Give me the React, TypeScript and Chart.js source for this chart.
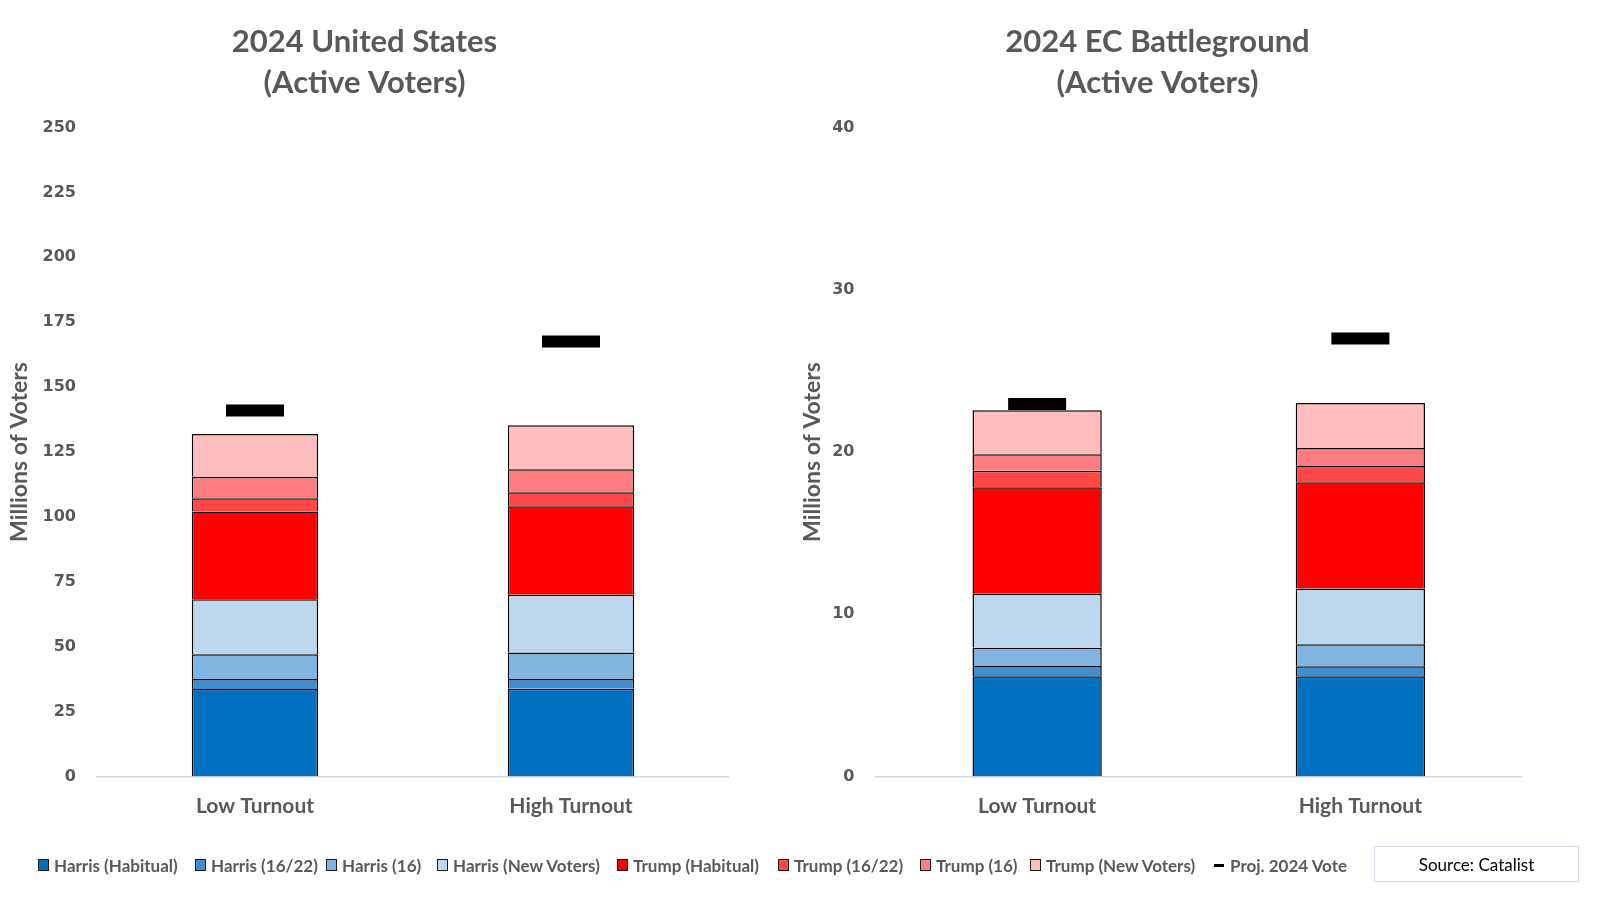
import React, { useEffect, useRef } from 'react';
import { Chart, registerables } from 'chart.js';

Chart.register(...registerables);

// ---- data -------------------------------------------------------------
const categories = ['Low Turnout', 'High Turnout'];

const seriesNames = [
  'Harris (Habitual)',
  'Harris (16/22)',
  'Harris (16)',
  'Harris (New Voters)',
  'Trump (Habitual)',
  'Trump (16/22)',
  'Trump (16)',
  'Trump (New Voters)',
];
const seriesColors = [
  '#0070C0',
  '#3F8ECF',
  '#7FB5DF',
  '#BDD7EE',
  '#FF0000',
  '#FF4747',
  '#FF7C80',
  '#FFBDBD',
];
const projName = 'Proj. 2024 Vote';

// United States, millions of active voters
const usHarrisHabitual = [33.7, 33.8];
const usHarris1622 = [3.9, 3.8];
const usHarris16 = [9.5, 10.2];
const usHarrisNew = [21.2, 22.2];
const usTrumpHabitual = [33.8, 34.1];
const usTrump1622 = [5.1, 5.4];
const usTrump16 = [8.3, 8.8];
const usTrumpNew = [16.4, 17.0];
const usProj = [141.0, 167.6];
const usTicks = [0, 25, 50, 75, 100, 125, 150, 175, 200, 225, 250];

// EC battleground states, millions of active voters
const ecHarrisHabitual = [6.18, 6.18];
const ecHarris1622 = [0.63, 0.61];
const ecHarris16 = [1.13, 1.36];
const ecHarrisNew = [3.33, 3.43];
const ecTrumpHabitual = [6.55, 6.55];
const ecTrump1622 = [1.03, 1.01];
const ecTrump16 = [1.01, 1.11];
const ecTrumpNew = [2.71, 2.77];
const ecProj = [22.95, 27.0];
const ecTicks = [0, 10, 20, 30, 40];

const usTitle = ['2024 United States', '(Active Voters)'];
const ecTitle = ['2024 EC Battleground', '(Active Voters)'];
const yTitle = 'Millions of Voters';
const sourceText = 'Source: Catalist';

// ---- styling ----------------------------------------------------------
const FONT = 'Lato, "Open Sans", sans-serif';
const TICK_FONT = '"DejaVu Sans", Verdana, sans-serif';
const TEXT = '#595959';
const CANVAS_H = 911;
const PLOT_BOTTOM = 776.5;

type PanelProps = {
  title: string[];
  stacks: number[][];
  proj: number[];
  ticks: number[];
  left: number;
  width: number;
  axisWidth: number;
};

function Panel({ title, stacks, proj, ticks, left, width, axisWidth }: PanelProps) {
  const ref = useRef<HTMLCanvasElement | null>(null);

  useEffect(() => {
    if (!ref.current) return;
    const barSets = stacks.map((values, i) => ({
      type: 'bar' as const,
      label: seriesNames[i],
      data: values,
      backgroundColor: seriesColors[i],
      borderColor: '#000000',
      borderWidth: 1.5,
      barPercentage: 0.4,
      categoryPercentage: 1.0,
      stack: 'votes',
      order: 1,
    }));
    // projected total drawn as a thick horizontal dash above each stack
    const projSet = {
      type: 'line' as const,
      label: projName,
      data: proj,
      showLine: false,
      pointStyle: 'line' as const,
      pointRadius: 29,
      pointHoverRadius: 29,
      pointBorderWidth: 12,
      pointHoverBorderWidth: 12,
      borderColor: '#000000',
      pointBorderColor: '#000000',
      backgroundColor: '#000000',
      stack: 'proj',
      order: 0,
    };

    const chart = new Chart(ref.current, {
      type: 'bar',
      data: { labels: categories, datasets: [projSet as any, ...barSets] },
      options: {
        responsive: false,
        animation: false,
        devicePixelRatio: 1,
        layout: { autoPadding: false, padding: { left: 0, right: 0, top: 0, bottom: 0 } },
        plugins: {
          legend: { display: false },
          tooltip: { enabled: false },
          title: {
            display: true,
            text: title,
            color: TEXT,
            font: { family: FONT, size: 31, weight: 'bold', lineHeight: 1.33 },
            padding: { top: 21, bottom: 24 },
          },
        },
        scales: {
          x: {
            stacked: true,
            grid: { display: false, drawTicks: false },
            border: { display: true, color: '#D9D9D9', width: 1.5 },
            ticks: {
              color: TEXT,
              padding: 17,
              font: { family: FONT, size: 21, weight: 'bold' },
            },
            afterFit: (s: any) => {
              s.height = CANVAS_H - PLOT_BOTTOM;
            },
          },
          y: {
            stacked: true,
            min: ticks[0],
            max: ticks[ticks.length - 1],
            grid: { display: false, drawTicks: false },
            border: { display: false },
            afterBuildTicks: (s: any) => {
              s.ticks = ticks.map((v) => ({ value: v }));
            },
            ticks: {
              color: TEXT,
              padding: 21,
              font: { family: TICK_FONT, size: 16, weight: 'bold' },
            },
            title: {
              display: true,
              text: yTitle,
              color: TEXT,
              padding: { top: 6, bottom: 0 },
              font: { family: FONT, size: 23, weight: 'bold' },
            },
            afterFit: (s: any) => {
              s.width = axisWidth;
            },
          },
        },
      },
    });
    return () => chart.destroy();
  }, []);

  return (
    <canvas
      ref={ref}
      width={width}
      height={CANVAS_H}
      style={{ position: 'absolute', left, top: 0, width, height: CANVAS_H }}
    />
  );
}

const legendLeft = [38, 195, 326, 437, 617, 778, 920, 1030, 1214];

export default function App() {
  const usStacks = [
    usHarrisHabitual,
    usHarris1622,
    usHarris16,
    usHarrisNew,
    usTrumpHabitual,
    usTrump1622,
    usTrump16,
    usTrumpNew,
  ];
  const ecStacks = [
    ecHarrisHabitual,
    ecHarris1622,
    ecHarris16,
    ecHarrisNew,
    ecTrumpHabitual,
    ecTrump1622,
    ecTrump16,
    ecTrumpNew,
  ];

  const legendItemStyle: React.CSSProperties = {
    position: 'absolute',
    top: 853,
    height: 24,
    display: 'flex',
    alignItems: 'center',
    whiteSpace: 'nowrap',
    fontFamily: FONT,
    fontWeight: 700,
    fontSize: 17,
    color: TEXT,
  };

  return (
    <div
      style={{
        position: 'absolute',
        left: 0,
        top: 0,
        width: 1600,
        height: 911,
        background: '#ffffff',
        overflow: 'hidden',
      }}
    >
      <Panel title={usTitle} stacks={usStacks} proj={usProj} ticks={usTicks} left={0} width={729} axisWidth={97} />
      <Panel title={ecTitle} stacks={ecStacks} proj={ecProj} ticks={ecTicks} left={793} width={729} axisWidth={82.5} />

      {seriesNames.map((name, i) => (
        <div key={name} style={{ ...legendItemStyle, left: legendLeft[i] }}>
          <span
            style={{
              display: 'inline-block',
              width: 9,
              height: 10,
              background: seriesColors[i],
              border: '1px solid #1a1a1a',
              marginRight: 5,
            }}
          />
          {name}
        </div>
      ))}
      <div style={{ ...legendItemStyle, left: legendLeft[8] }}>
        <span
          style={{
            display: 'inline-block',
            width: 10,
            height: 3,
            background: '#000000',
            marginRight: 6,
          }}
        />
        {projName}
      </div>

      <div
        style={{
          position: 'absolute',
          left: 1374,
          top: 846,
          width: 203,
          height: 34,
          border: '1.5px solid #D5DCE8',
          display: 'flex',
          alignItems: 'center',
          justifyContent: 'center',
          fontFamily: FONT,
          fontSize: 17,
          color: '#000000',
        }}
      >
        {sourceText}
      </div>
    </div>
  );
}
